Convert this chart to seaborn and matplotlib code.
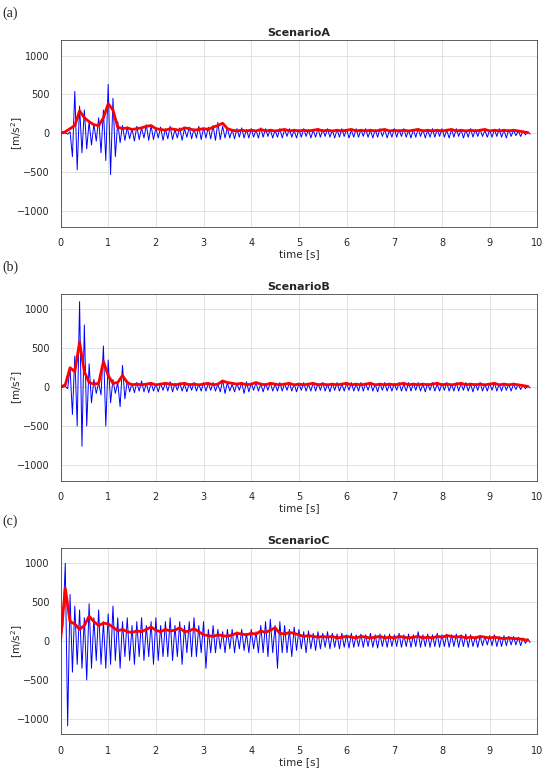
import numpy as np
import pandas as pd
import seaborn as sns
import matplotlib
matplotlib.use("Agg")
import matplotlib.pyplot as plt

titles = ["ScenarioA", "ScenarioB", "ScenarioC"]
panel_labels = ["(a)", "(b)", "(c)"]
dt_raw = 0.05
dt_env = 0.1

raw_a = [0, 0, 5, -10, 20, -300, 540, -470, 350, -250, 300, -200, 150, -150, 120, -100, 200, -250, 300, -350,
         630, -530, 450, -300, 150, -120, 100, -90, 80, -70, 60, -100, 90, -80, 70, -60, 110, -90, 100, -80,
         70, -60, 80, -90, 60, -70, 90, -80, 50, -60, 70, -90, 60, -50, 80, -70, 60, -60, 90, -80,
         70, -60, 80, -70, 100, -90, 140, -80, 90, -60, 70, -60, 50, -70, 60, -50, 70, -60, 50, -60,
         60, -50, 40, -60, 70, -50, 60, -40, 50, -60, 40, -50, 60, -60, 50, -40, 60, -50, 40, -60,
         50, -50, 60, -40, 50, -60, 40, -50, 60, -50, 50, -40, 60, -50, 40, -60, 50, -50, 60, -40,
         50, -60, 40, -50, 60, -50, 50, -40, 60, -50, 40, -60, 50, -50, 60, -40, 50, -60, 40, -50,
         60, -50, 50, -40, 60, -50, 40, -60, 50, -50, 60, -40, 50, -60, 40, -50, 60, -50, 50, -40,
         60, -50, 40, -60, 50, -50, 60, -40, 50, -60, 40, -50, 60, -50, 50, -40, 50, -40, 40, -50,
         40, -50, 50, -40, 60, -50, 40, -60, 50, -40, 40, -30, 30, -40, 30, -20, 20, -10]
env_a = [0, 20, 60, 100, 290, 200, 150, 110, 100, 200, 380, 300, 80, 60, 70, 50, 60, 70, 90, 100,
         60, 50, 40, 60, 50, 40, 70, 60, 40, 50, 60, 50, 80, 100, 130, 60, 40, 30, 40, 30,
         40, 30, 50, 30, 40, 30, 40, 50, 30, 40, 30, 40, 30, 40, 50, 30, 40, 30, 40, 30,
         40, 50, 30, 40, 30, 40, 30, 40, 50, 30, 40, 30, 40, 30, 40, 50, 30, 40, 30, 40,
         30, 40, 50, 30, 40, 30, 40, 30, 40, 50, 30, 40, 30, 40, 30, 40, 30, 20, 10]

raw_b = [0, 0, 10, -20, 250, -350, 400, -500, 1100, -760, 800, -500, 300, -200, 100, -80, 60, -100, 530, -500,
         350, -200, 100, -80, 60, -250, 280, -150, 80, -60, 50, -70, 60, -50, 80, -60, 50, -70, 60, -50,
         40, -60, 50, -40, 60, -50, 70, -60, 50, -40, 60, -50, 40, -60, 50, -40, 60, -50, 40, -50,
         60, -50, 50, -40, 60, -50, 40, -60, 90, -80, 60, -50, 40, -60, 50, -40, 60, -80, 70, -60,
         50, -40, 60, -50, 40, -60, 50, -40, 60, -50, 40, -50, 60, -50, 50, -40, 60, -50, 40, -60,
         50, -40, 60, -50, 40, -50, 60, -50, 50, -40, 60, -50, 40, -60, 50, -40, 60, -50, 40, -50,
         50, -40, 60, -50, 40, -50, 60, -50, 50, -40, 60, -50, 40, -60, 50, -40, 60, -50, 40, -50,
         50, -40, 60, -50, 40, -50, 60, -50, 50, -40, 60, -50, 40, -60, 50, -40, 60, -50, 40, -50,
         50, -40, 60, -50, 40, -50, 60, -50, 50, -40, 60, -50, 40, -60, 50, -40, 60, -50, 40, -50,
         50, -40, 60, -50, 40, -50, 50, -40, 40, -50, 40, -30, 40, -30, 30, -20, 20, -10]
env_b = [0, 30, 250, 200, 580, 200, 60, 40, 50, 330, 150, 50, 60, 150, 60, 30, 40, 30, 40, 50,
         30, 40, 50, 40, 30, 40, 50, 30, 40, 30, 40, 50, 30, 40, 80, 60, 50, 40, 50, 30,
         40, 60, 40, 30, 50, 40, 30, 40, 50, 30, 40, 30, 40, 50, 30, 40, 30, 40, 30, 40,
         50, 30, 40, 30, 40, 50, 30, 40, 30, 40, 30, 40, 50, 30, 40, 30, 40, 30, 40, 50,
         30, 40, 30, 40, 50, 30, 40, 30, 40, 30, 40, 50, 30, 40, 30, 40, 30, 20, 10]

raw_c = [0, 200, 1000, -1090, 600, -400, 450, -300, 400, -350, 300, -500, 480, -350, 300, -250, 400, -300, 250, -350,
         350, -300, 450, -250, 300, -350, 250, -200, 300, -250, 200, -300, 250, -200, 300, -250, 200, -200, 250, -300,
         300, -250, 200, -200, 250, -200, 300, -250, 200, -200, 250, -300, 200, -150, 250, -200, 300, -200, 200, -150,
         250, -350, 150, -150, 200, -150, 150, -100, 120, -150, 150, -100, 150, -150, 120, -100, 150, -120, 100, -150,
         150, -100, 120, -150, 200, -150, 250, -200, 280, -150, 200, -350, 250, -150, 200, -150, 150, -200, 180, -120,
         150, -100, 120, -150, 130, -100, 100, -120, 120, -100, 100, -80, 120, -100, 100, -80, 90, -100, 100, -80,
         80, -90, 100, -80, 80, -70, 90, -80, 80, -70, 100, -80, 80, -90, 90, -70, 80, -80, 90, -70,
         80, -70, 100, -80, 80, -70, 90, -80, 80, -70, 120, -80, 80, -70, 90, -80, 80, -70, 100, -80,
         80, -70, 90, -80, 80, -70, 90, -80, 80, -70, 90, -80, 80, -70, 60, -80, 70, -60, 60, -50,
         70, -60, 80, -70, 60, -70, 70, -60, 60, -50, 60, -50, 50, -60, 40, -30, 30, -20]
env_c = [0, 680, 250, 220, 150, 200, 320, 250, 200, 230, 220, 180, 130, 150, 120, 110, 130, 120, 150, 180,
         140, 120, 150, 130, 140, 170, 120, 130, 160, 120, 80, 70, 60, 80, 70, 60, 80, 100, 90, 80,
         100, 90, 130, 110, 140, 170, 100, 90, 110, 100, 80, 60, 70, 60, 50, 60, 50, 60, 40, 50,
         60, 50, 40, 60, 50, 40, 50, 60, 40, 50, 40, 60, 50, 40, 50, 60, 40, 50, 40, 60,
         50, 70, 60, 50, 60, 40, 50, 40, 60, 50, 40, 50, 40, 30, 40, 30, 30, 20, 10]

raws = [raw_a, raw_b, raw_c]
envs = [env_a, env_b, env_c]

sns.set_theme(style="whitegrid")
plt.rcParams['font.family'] = ['DejaVu Sans']
fig, axes = plt.subplots(3, 1, figsize=(5.5, 7.69), dpi=100)
fig.subplots_adjust(left=0.11, right=0.977, top=0.948, bottom=0.045, hspace=0.36)

for i, ax in enumerate(axes):
    r = pd.DataFrame({"t": np.arange(len(raws[i])) * dt_raw, "v": raws[i]})
    e = pd.DataFrame({"t": np.arange(len(envs[i])) * dt_env, "v": envs[i]})
    sns.lineplot(data=r, x="t", y="v", ax=ax, color="#0000ff", lw=0.7)
    sns.lineplot(data=e, x="t", y="v", ax=ax, color="#ff0000", lw=2)
    ax.set_xlim(0, 10)
    ax.set_ylim(-1200, 1200)
    ax.set_xticks(range(0, 11))
    ax.set_yticks([-1000, -500, 0, 500, 1000])
    ax.tick_params(labelsize=7, pad=2)
    ax.set_xlabel("time [s]", fontsize=7.5, labelpad=1)
    ax.set_ylabel("[m/s$^2$]", fontsize=7.5, labelpad=0)
    ax.yaxis.set_label_coords(-0.075, 0.5)
    ax.set_title(titles[i], fontsize=8, fontweight="bold", pad=3)
    ax.grid(color="#dddddd", lw=0.6)
    for s in ax.spines.values():
        s.set_color("#444444")
        s.set_linewidth(0.6)
    pos = ax.get_position()
    fig.text(0.005, pos.y1 + 0.03, panel_labels[i], fontsize=10, family="Liberation Serif")

fig.savefig("out.png", dpi=100, facecolor="white")
